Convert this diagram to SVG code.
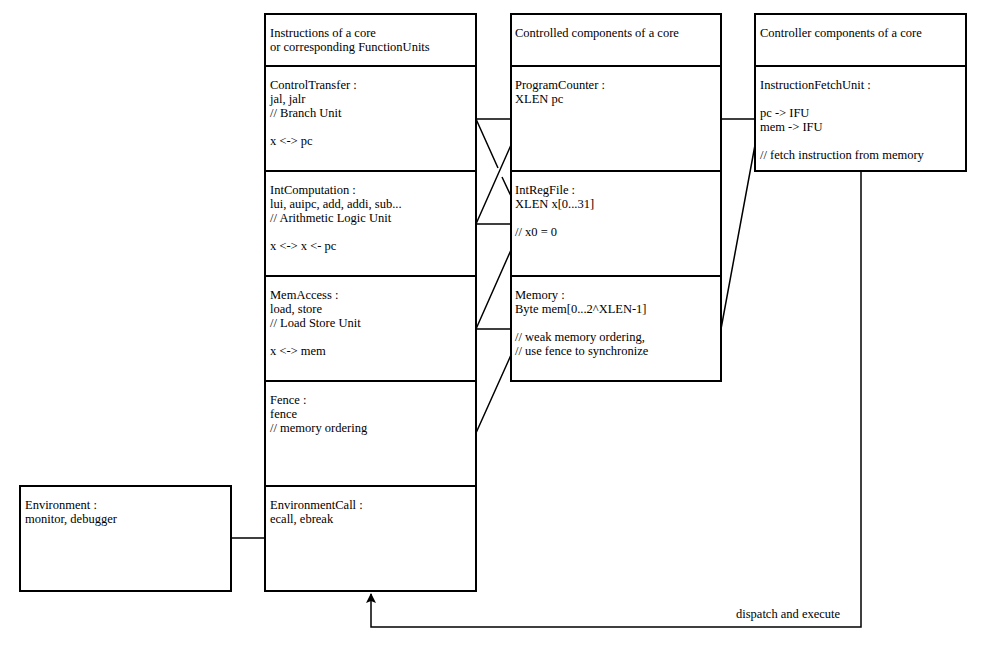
<svg xmlns="http://www.w3.org/2000/svg" width="981" height="645" viewBox="0 0 981 645">
<style>
.b{fill:#fff;stroke:#000;stroke-width:2}
text{font-family:"Liberation Serif","DejaVu Serif",serif;font-size:12.5px;fill:#000}
.c{stroke:#000;stroke-width:1.5;fill:none}
</style>
<defs><marker id="a" markerWidth="12" markerHeight="12" refX="9" refY="5" orient="auto" markerUnits="userSpaceOnUse"><path d="M0,0 L10,5 L0,10 L2,5 Z" fill="#000"/></marker></defs>
<rect width="981" height="645" fill="#fff"/>
<g id="connectors">
<path class="c" d="M476,119H511M476,119L498,168M502,177L511,196M476,224H511M476,224L511,145M476,329H511M476,329L511,250M476,433L511,355"/>
<path class="c" d="M721,119H755M721,329L755,145M231,538H265"/>
<path class="c" d="M861,171V627H371V594" marker-end="url(#a)"/>
<text x="736" y="618">dispatch and execute</text>
</g>
<g id="instructions">
<rect class="b" x="265" y="14" width="211" height="52"/>
<text x="270" y="37">Instructions of a core</text><text x="270" y="51">or corresponding FunctionUnits</text>
</g>
<g id="ControlTransfer"><rect class="b" x="265" y="66" width="211" height="105"/>
<text x="270" y="89">ControlTransfer :</text><text x="270" y="103">jal, jalr</text><text x="270" y="117">// Branch Unit</text><text x="270" y="145">x &lt;-&gt; pc</text></g>
<g id="IntComputation"><rect class="b" x="265" y="171" width="211" height="105"/>
<text x="270" y="194">IntComputation :</text><text x="270" y="208">lui, auipc, add, addi, sub...</text><text x="270" y="222">// Arithmetic Logic Unit</text><text x="270" y="250">x &lt;-&gt; x &lt;- pc</text></g>
<g id="MemAccess"><rect class="b" x="265" y="276" width="211" height="105"/>
<text x="270" y="299">MemAccess :</text><text x="270" y="313">load, store</text><text x="270" y="327">// Load Store Unit</text><text x="270" y="355">x &lt;-&gt; mem</text></g>
<g id="Fence"><rect class="b" x="265" y="381" width="211" height="105"/>
<text x="270" y="404">Fence :</text><text x="270" y="418">fence</text><text x="270" y="432">// memory ordering</text></g>
<g id="EnvironmentCall"><rect class="b" x="265" y="486" width="211" height="105"/>
<text x="270" y="509">EnvironmentCall :</text><text x="270" y="523">ecall, ebreak</text></g>
<g id="Environment"><rect class="b" x="20" y="486" width="211" height="105"/>
<text x="25" y="509">Environment :</text><text x="25" y="523">monitor, debugger</text></g>
<g id="controlled"><rect class="b" x="511" y="14" width="210" height="52"/>
<text x="515" y="37">Controlled components of a core</text></g>
<g id="ProgramCounter"><rect class="b" x="511" y="66" width="210" height="105"/>
<text x="515" y="89">ProgramCounter :</text><text x="515" y="103">XLEN pc</text></g>
<g id="IntRegFile"><rect class="b" x="511" y="171" width="210" height="105"/>
<text x="515" y="194">IntRegFile :</text><text x="515" y="208">XLEN x[0...31]</text><text x="515" y="236">// x0 = 0</text></g>
<g id="Memory"><rect class="b" x="511" y="276" width="210" height="105"/>
<text x="515" y="299">Memory :</text><text x="515" y="313">Byte mem[0...2^XLEN-1]</text><text x="515" y="341">// weak memory ordering,</text><text x="515" y="355">// use fence to synchronize</text></g>
<g id="controller"><rect class="b" x="755" y="14" width="211" height="52"/>
<text x="760" y="37">Controller components of a core</text></g>
<g id="InstructionFetchUnit"><rect class="b" x="755" y="66" width="211" height="105"/>
<text x="760" y="89">InstructionFetchUnit :</text><text x="760" y="117">pc -&gt; IFU</text><text x="760" y="131">mem -&gt; IFU</text><text x="760" y="159">// fetch instruction from memory</text></g>
</svg>
